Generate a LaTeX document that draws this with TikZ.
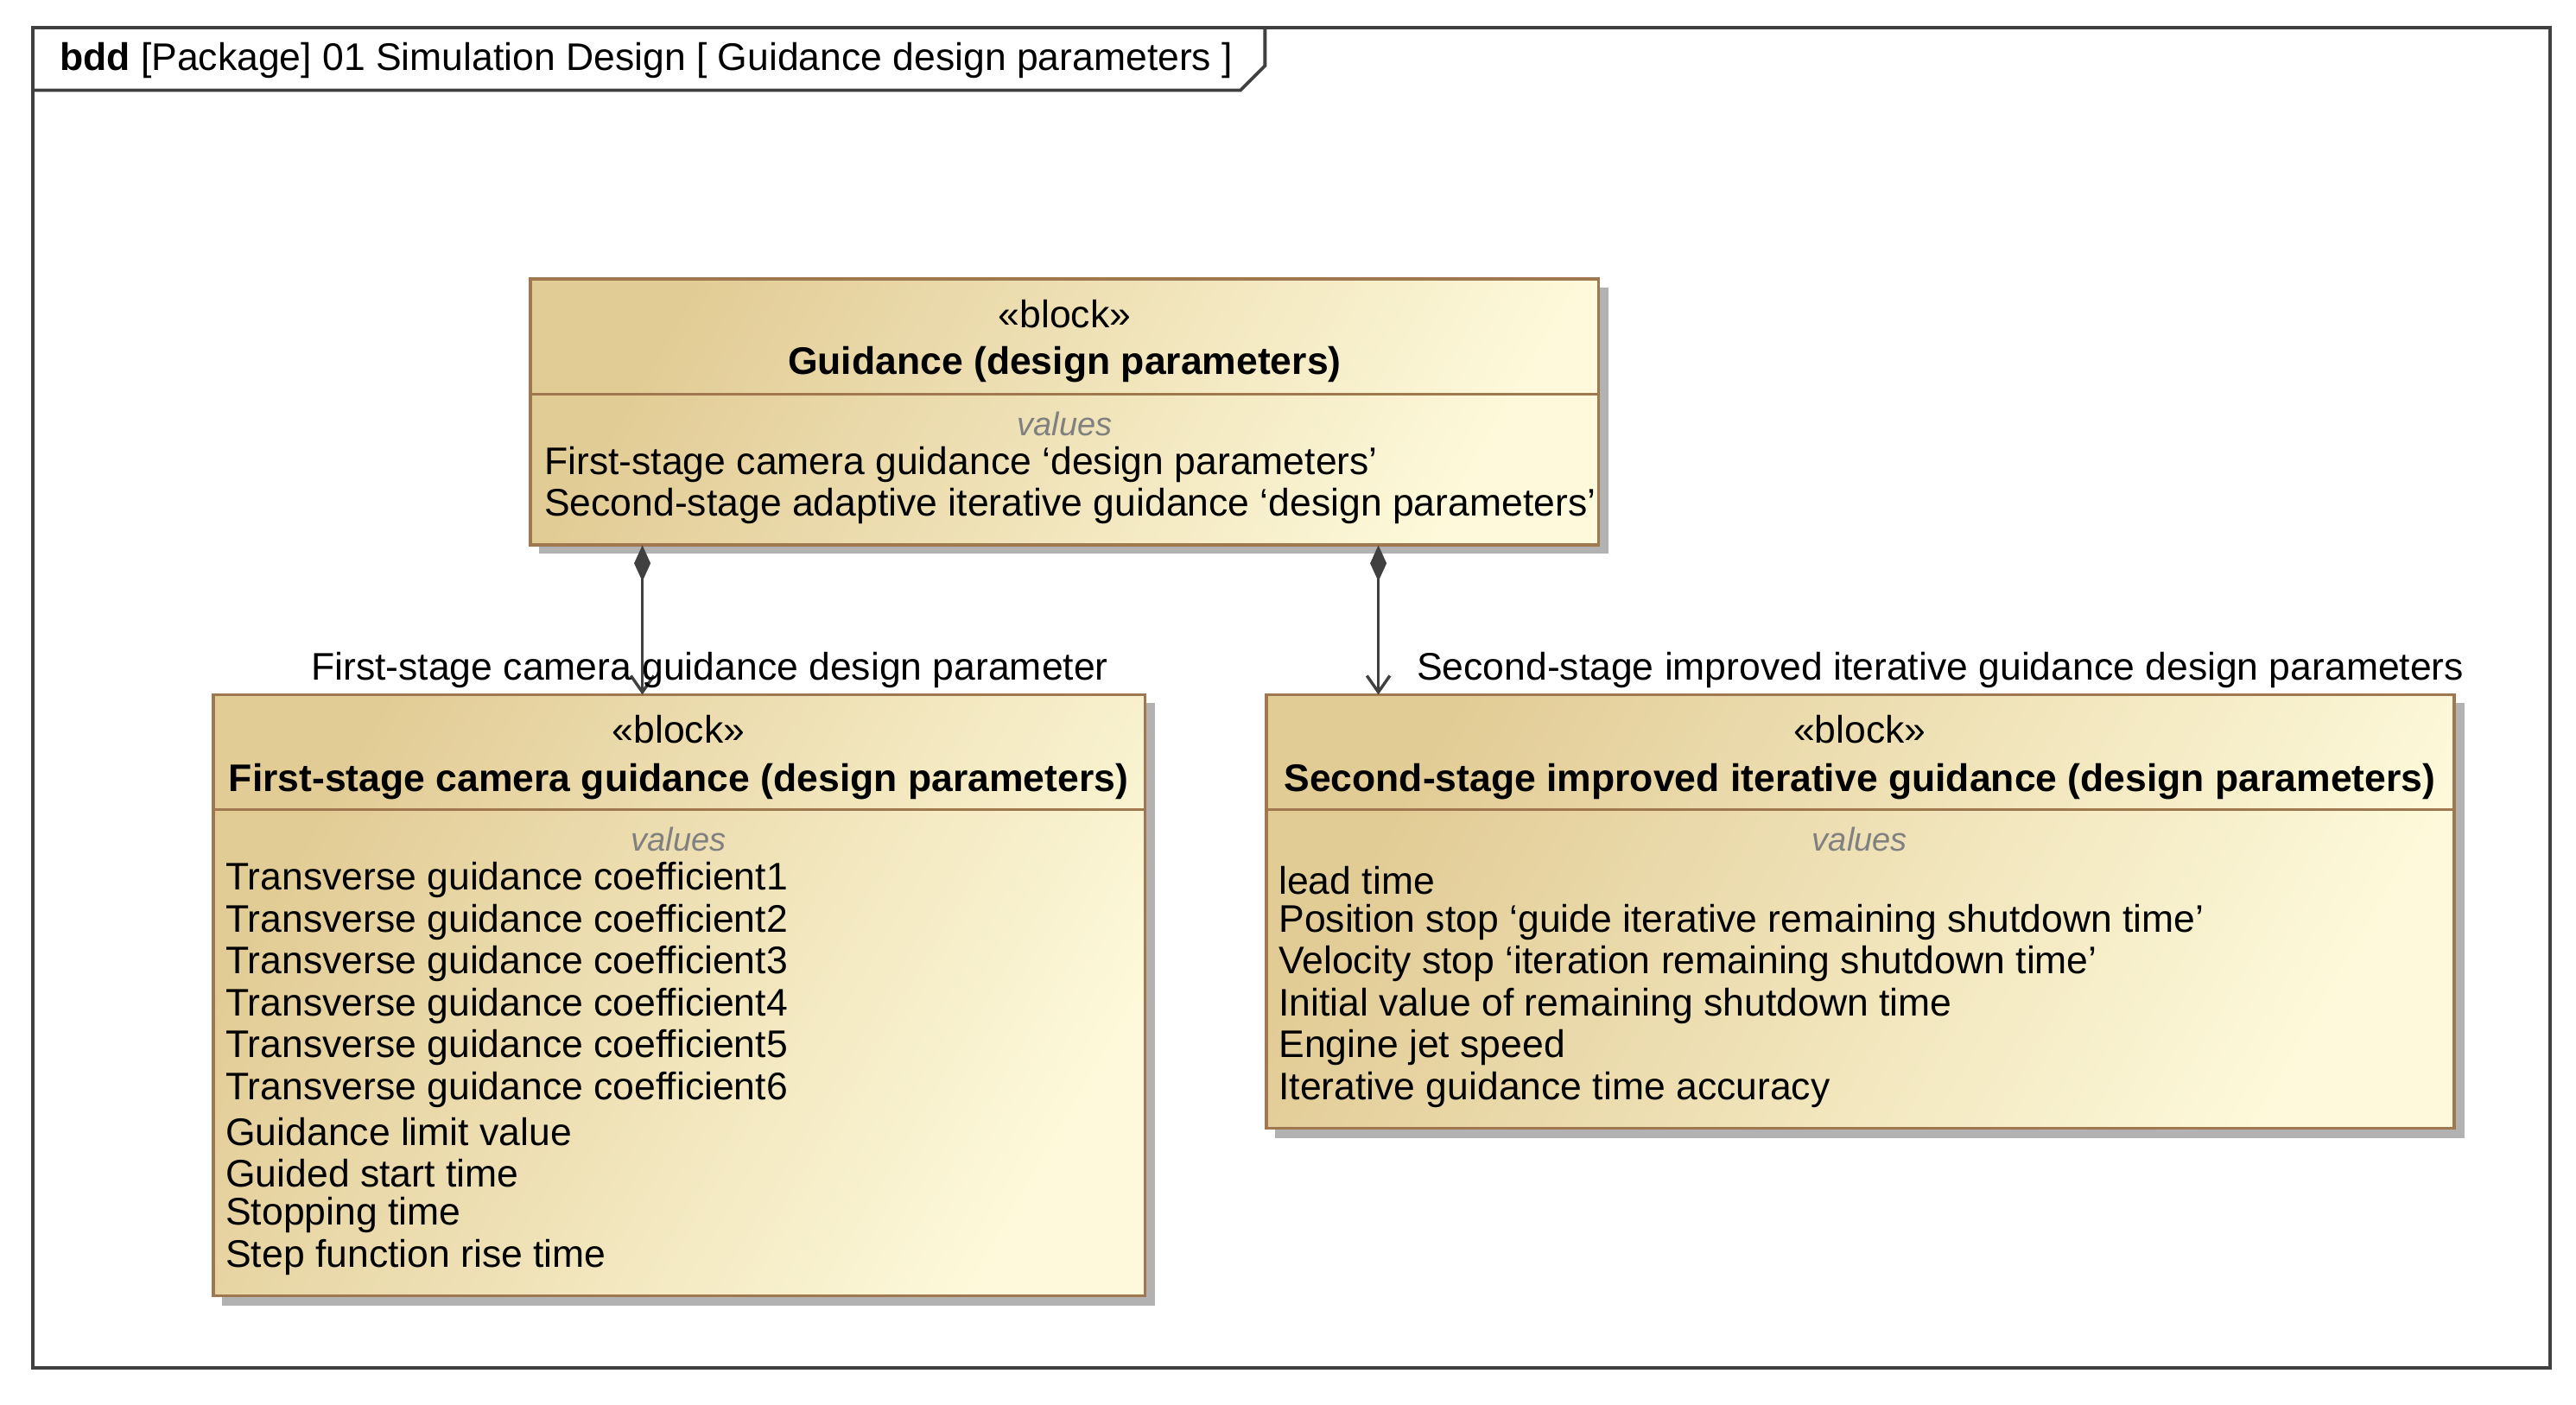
\documentclass[tikz,border=0pt]{standalone}
\usepackage{fontspec}
\setmainfont{Liberation Sans}
\usetikzlibrary{arrows.meta}
\definecolor{bord}{HTML}{A07850}
\definecolor{dark}{HTML}{E2CC96}
\definecolor{light}{HTML}{FDF9DA}
\begin{document}
\begin{tikzpicture}[x=0.5pt,y=-0.5pt,
  blk/.style={draw=bord,line width=1pt,left color=dark,right color=light,shading angle=60},
  shd/.style={fill=black!30,draw=none},
  t/.style={font=\fontsize{11.7}{13}\selectfont,inner sep=0pt},
  b/.style={t,font=\fontsize{11.7}{13}\selectfont\bfseries},
  v/.style={t,font=\fontsize{10}{11}\selectfont\itshape,text=black!50},
  l/.style={t,anchor=west},
  comp/.style={draw=black!75,line width=0.9pt,{Diamond[length=11pt,width=5pt,fill=black!75]}-{Straight Barb[length=5pt,width=7pt]}}]
\useasboundingbox (0,0) rectangle (1568,855);
\fill[white] (0,0) rectangle (1568,855);
% frame
\draw[black!75,line width=1pt] (20,17) rectangle (1552,833);
\draw[black!75,line width=1pt] (20,55) -- (755,55) -- (770,40) -- (770,17);
\node[t,anchor=west] (title) at (36,37) {\textbf{bdd} [Package] 01 Simulation Design [ Guidance design parameters ]};
% top block
\fill[shd] (328,175) rectangle (979,337);
\shade[blk] (323,170) rectangle (973,332);
\draw[bord,line width=1pt] (323,240) -- (973,240);
\node[t] (ts) at (648,191) {«block»};
\node[b] (tn) at (648,222) {Guidance (design parameters)};
\node[v] (tv) at (648,258) {values};
\node[l] (t1) at (331,283) {First-stage camera guidance ‘design parameters’};
\node[l] (t2) at (331,308) {Second-stage adaptive iterative guidance ‘design parameters’};
% left block
\fill[shd] (135,428) rectangle (703,795);
\shade[blk] (130,423) rectangle (697,789);
\draw[bord,line width=1pt] (130,493) -- (697,493);
\node[t] (ls) at (413,444) {«block»};
\node[b] (ln) at (413,476) {First-stage camera guidance (design parameters)};
\node[v] (lv) at (413,511) {values};
\foreach \s [count=\i] in {Transverse guidance coefficient1,Transverse guidance coefficient2,Transverse guidance coefficient3,Transverse guidance coefficient4,Transverse guidance coefficient5,Transverse guidance coefficient6,Guidance limit value,Guided start time,Stopping time,Step function rise time}
  \node[l] (li\i) at (137,{536+25.5*(\i-1)}) {\s};
% right block
\fill[shd] (776,428) rectangle (1500,693);
\shade[blk] (771,423) rectangle (1494,687);
\draw[bord,line width=1pt] (771,493) -- (1494,493);
\node[t] (rs) at (1132,444) {«block»};
\node[b] (rn) at (1132,476) {Second-stage improved iterative guidance (design parameters)};
\node[v] (rv) at (1132,511) {values};
\foreach \s [count=\i] in {lead time,Position stop ‘guide iterative remaining shutdown time’,Velocity stop ‘iteration remaining shutdown time’,Initial value of remaining shutdown time,Engine jet speed,Iterative guidance time accuracy}
  \node[l] (ri\i) at (778,{536+25.5*(\i-1)}) {\s};
% connectors
\coordinate (a1) at (391,332); \coordinate (a2) at (391,423);
\coordinate (b1) at (839,332); \coordinate (b2) at (839,423);
\draw[comp] (a1) -- (a2);
\draw[comp] (b1) -- (b2);
\node[t] (la) at (432,408) {First-stage camera guidance design parameter};
\node[t,anchor=west] (lb) at (862,408) {Second-stage improved iterative guidance design parameters};
\end{tikzpicture}
\end{document}
